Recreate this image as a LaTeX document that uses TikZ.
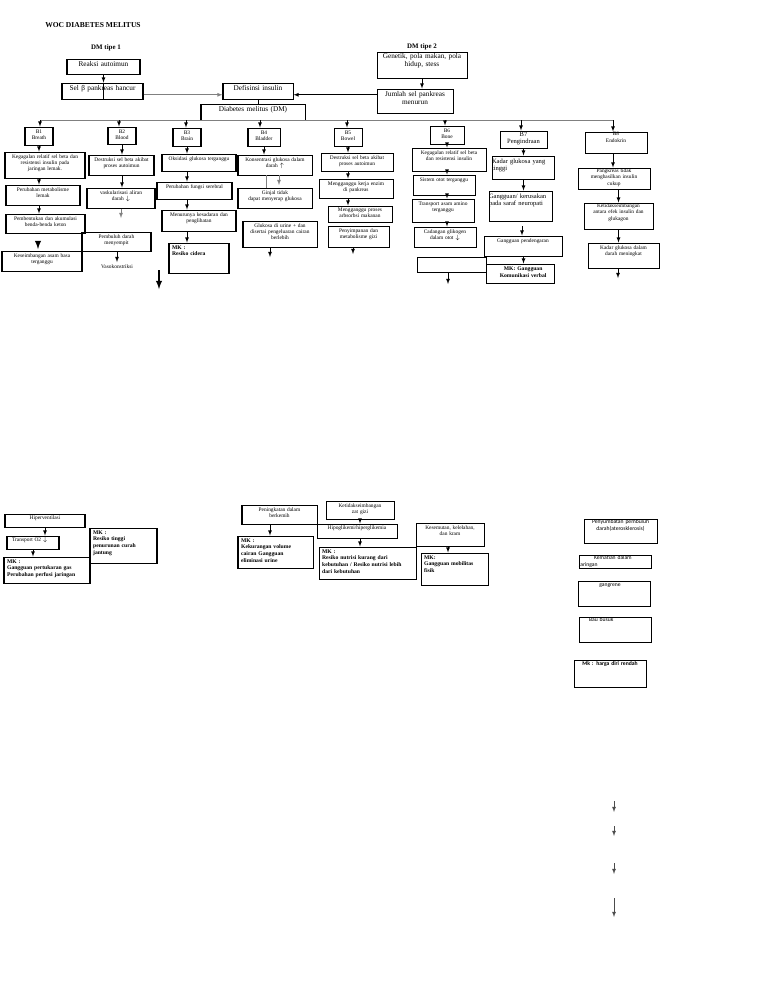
\documentclass[tikz,border=0pt]{standalone}
\usepackage{fontspec}
\setmainfont{Liberation Serif}
\newfontfamily\calib{Carlito}
\usepackage{tikz}
\usetikzlibrary{arrows,shapes}

% box from corner (x1,y1) to (x2,y2), text at the top
\newcommand{\wocbox}[7][]{%
  \pgfmathsetmacro{\wocw}{(#5-#3)*0.797}%
  \pgfmathsetmacro{\woch}{(#6-#4)*0.797}%
  \node[boxy, minimum width=\wocw pt, minimum height=\woch pt] (#2) at ({(#3+#5)/2},{(#4+#6)/2}) {};%
  \node[txt, text width=\wocw pt, #1] at (#2.north) {#7};%
}

\begin{document}
\begin{tikzpicture}[x=0.797pt, y=-0.797pt,
    boxy/.style={draw, line width=0.8pt, inner sep=0pt},
    txt/.style={anchor=north, align=center, inner xsep=1pt, inner ysep=2.2pt, font=\fontsize{4.3}{5}\selectfont},
    bigtxt/.style={font=\fontsize{5.8}{6.6}\selectfont},
    midtxt/.style={font=\fontsize{5.2}{6}\selectfont},
    mktxt/.style={align=left, xshift=2.5pt, font=\bfseries\fontsize{4.5}{5.4}\selectfont},
    sanstxt/.style={inner ysep=0.8pt, font=\calib\fontsize{4.5}{5.2}\selectfont},
    arr/.style={-latex, line width=0.45pt},
    fat/.style={-latex, line width=1.2pt}]
\useasboundingbox (0,0) rectangle (768,994);

% heads
\node[font=\bfseries\fontsize{6}{7}\selectfont, anchor=west, inner sep=0pt] (title) at (45,25) {WOC DIABETES MELITUS};
\node[font=\bfseries\fontsize{5.5}{6.5}\selectfont] (tipe1) at (106,48) {DM tipe 1};
\node[font=\bfseries\fontsize{5.5}{6.5}\selectfont] (tipe2) at (422,47) {DM tipe 2};

\wocbox[bigtxt]{reaksi}{67}{59}{140}{74}{Reaksi autoimun}
\wocbox[bigtxt]{sel}{62}{83}{143}{99}{Sel β pankreas hancur}
\wocbox[bigtxt]{defisiensi}{223}{83}{293}{99}{Defisinsi insulin}
\wocbox[bigtxt]{dm}{201}{104}{305}{120}{Diabetes melitus (DM)}
\wocbox[bigtxt, inner ysep=1.5pt]{genetik}{377}{52}{467}{78}{Genetik, pola makan, pola\\hidup, stess}
\wocbox[bigtxt]{jumlah}{377}{89}{453}{113}{Jumlah sel pankreas\\menurun}

\draw[arr] (reaksi.south) -- (reaksi.south |- sel.north);
\draw (reaksi.south |- sel.north) -- (reaksi.south |- sel.south);
\coordinate (selout) at ([yshift=-3pt]sel.east);
\coordinate (defin) at ([yshift=-3pt]defisiensi.east);
\draw[arr, gray] (selout) -- (selout -| defisiensi.west);
\draw[arr] (defin -| jumlah.west) -- (defin);
\draw (defisiensi.south) -- (defisiensi.south |- dm.north);
\draw[arr] (genetik.south) -- (genetik.south |- jumlah.north);

% B boxes
\wocbox{b1}{25}{127}{53}{145}{B1\\Breath}
\wocbox{b2}{108}{127}{136}{144}{B2\\Blood}
\wocbox{b3}{173}{128}{201}{146}{B3\\Brain}
\wocbox{b4}{248}{128}{280}{146}{B4\\Bladder}
\wocbox{b5}{334}{128}{362}{146}{B5\\Bowel}
\wocbox{b6}{430}{126}{464}{144}{B6\\Bone}
\wocbox[midtxt, inner ysep=1pt]{b7}{500}{131}{547}{148}{B7\\Pengindraan}
\wocbox[inner ysep=0.5pt]{b8}{585}{132}{647}{153}{B8\\Endokrin}

\coordinate (hl) at (40,120);
\coordinate (hr) at (613,120);
\draw[gray, line width=0.8pt] (hl) -- (hr);
\foreach \i/\x in {1/40,2/119,3/186,4/260,5/347,6/445,7/521,8/613}
{
  \coordinate (d\i) at (\x,120);
  \draw[arr] (d\i) -- (d\i |- b\i.north);
}

% B1 breath
\wocbox{keg1}{5}{152}{85}{178}{Kegagalan relatif sel beta dan\\resistensi insulin pada\\jaringan lemak.}
\wocbox{lemak}{6}{185}{80}{205}{Perubahan metabolisme\\lemak}
\wocbox{keton}{6}{214}{85}{233}{Pembentukan dan akumulasi\\benda-benda keton}
\wocbox{asam}{2}{251}{82}{271}{Keseimbangan asam basa\\terganggu}
\foreach \a/\b in {b1/keg1,keg1/lemak,lemak/keton}
  \draw[arr] (\a.south -| b1) -- (\b.north -| b1);
\coordinate (t1a) at (38,242);
\coordinate (t1b) at (38,249);
\draw[fat] (t1a) -- (t1b);

% B2 blood
\wocbox{destr1}{89}{155}{154}{175}{Destruksi sel beta akibat\\proses autoimun}
\wocbox{vask}{87}{188}{155}{208}{vaskularisasi aliran\\darah $\downarrow$}
\wocbox{pembuluh}{82}{232}{151}{251}{Pembuluh darah\\menyempit}
\node[txt] (vaso) at (117,262) {Vasokonstriksi};
\foreach \a/\b in {b2/destr1,destr1/vask}
  \draw[arr] (\a.south -| b2) -- (\b.north -| b2);
\coordinate (v2) at (121,218);
\draw[arr, gray] (vask.south -| v2) -- (v2);
\draw[arr] (pembuluh.south -| vaso) -- (vaso.north);

% B3 brain
\wocbox{oks}{162}{154}{236}{171}{Oksidasi glukosa terganggu}
\wocbox{serebral}{157}{182}{232}{199}{Perubahan fungsi serebral}
\wocbox{sadar}{162}{210}{236}{231}{Menurunya kesadaran dan\\penglihatan}
\wocbox[mktxt]{cidera}{169}{243}{229}{273}{MK :\\Resiko cidera}
\foreach \a/\b in {b3/oks,oks/serebral,serebral/sadar,sadar/cidera}
  \draw[arr] (\a.south -| b3) -- (\b.north -| b3);
\coordinate (t3a) at (159,270);
\coordinate (t3b) at (159,289);
\draw[fat] (t3a) -- (t3b);

% B4 bladder
\wocbox{konsen}{238}{155}{312}{175}{Konsentrasi glukosa dalam\\darah $\uparrow$}
\wocbox{ginjal}{238}{188}{312}{208}{Ginjal tidak\\dapat menyerap glukosa}
\wocbox{urine}{243}{221}{317}{247}{Glukosa di urine + dan\\disertai pengeluaran cairan\\berlebih}
\draw[arr] (b4.south) -- (b4.south |- konsen.north);
\coordinate (k1) at (266,175);
\coordinate (k2) at (279,175);
\draw[gray] (k1) -- (k1 |- ginjal.north);
\draw[arr, gray] (k2) -- ([yshift=2pt]k2 |- ginjal.north);
\coordinate (u4) at (270,257);
\draw[arr] (urine.south -| u4) -- (u4);

% B5 bowel
\wocbox{destr2}{321}{153}{393}{171}{Destruksi sel beta akibat\\proses autoimun}
\wocbox{enzim}{319}{179}{393}{198}{Mengganggu kerja enzim\\di pankreas}
\wocbox[inner ysep=1.5pt]{absorb}{328}{206}{392}{222}{Mengganggu proses\\arbsorbsi makanan}
\wocbox{simpan}{328}{226}{389}{247}{Penyimpanan dan\\metabolisme gizi}
\foreach \a/\b in {b5/destr2,destr2/enzim,enzim/absorb}
  \draw[arr] (\a.south -| b5) -- (\b.north -| b5);
\coordinate (s5) at (353,254);
\draw[arr] (simpan.south -| s5) -- (s5);

% B6 bone
\wocbox{keg2}{412}{148}{486}{171}{Kegagalan relatif sel beta\\dan resistensi insulin}
\wocbox{otot}{413}{175}{475}{195}{Sistem otot terganggu}
\wocbox{amino}{412}{199}{474}{222}{Transport asam amino\\terganggu}
\wocbox{glikogen}{414}{227}{476}{247}{Cadangan glikogen\\dalam otot $\downarrow$}
\wocbox{kosong}{417}{257}{486}{272}{}
\foreach \a/\b in {b6/keg2,keg2/otot,otot/amino,amino/glikogen}
  \draw[arr] (\a.south -| b6) -- (\b.north -| b6);
\coordinate (o6) at (448,284);
\draw[arr] (kosong.south -| o6) -- (o6);

% B7 pengindraan
\wocbox[midtxt, align=left, inner xsep=0pt]{kadar}{492}{156}{554}{179}{Kadar glukosa yang\\tinggi}
\wocbox[midtxt, align=left, inner xsep=0pt]{saraf}{489}{191}{552}{221}{Gangguan/ kerusakan\\pada saraf neuropati}
\wocbox{dengar}{484}{236}{562}{256}{Gangguan pendengaran}
\wocbox[mktxt, align=center, xshift=0pt]{verbal}{486}{264}{554}{283}{MK: Gangguan\\Komunikasi verbal}
\foreach \a/\b in {b7/kadar,kadar/saraf,dengar/verbal}
  \draw[arr] (\a.south -| b7) -- (\b.north -| b7);
\coordinate (n7) at (522,226);
\draw[arr] (n7) -- (n7 |- dengar.north);

% B8 endokrin
\wocbox[inner ysep=0.8pt]{pankreas}{578}{168}{650}{189}{Pangkreas tidak\\menghasilkan insulin\\cukup}
\wocbox[inner ysep=0.8pt]{efek}{584}{203}{653}{229}{Ketidakseimbangan\\antara efek insulin dan\\glukagon}
\wocbox{meningkat}{588}{243}{659}{268}{Kadar glukosa dalam\\darah meningkat}
\draw[arr] (b8.south -| d8) -- (pankreas.north -| d8);
\foreach \a/\b in {pankreas/efek,efek/meningkat}
  \draw[arr] (\a.south -| efek) -- (\b.north -| efek);
\coordinate (m8) at (618,278);
\draw[arr] (meningkat.south -| m8) -- (m8);

% lower row
\wocbox[inner ysep=1.5pt]{hiper}{5}{514}{85}{527}{Hiperventilasi}
\wocbox[align=left, xshift=4pt, inner ysep=1.5pt]{transpor}{7}{536}{59}{549}{Transport O2 $\downarrow$}
\wocbox[mktxt]{gas}{4}{557}{90}{583}{MK :\\Gangguan pertukaran gas\\Perubahan perfusi jaringan}
\wocbox[mktxt]{jantung}{90}{528}{157}{563}{MK :\\Resiko tinggi\\penurunan curah\\jantung}
\draw[arr] (hiper.south) -- (hiper.south |- transpor.north);
\draw[arr] (transpor.south) -- (transpor.south |- gas.north);

\wocbox{berkemih}{242}{505}{317}{524}{Peningkatan dalam\\berkemih}
\wocbox[mktxt]{cairan}{238}{536}{313}{568}{MK :\\Kekurangan volume\\cairan Gangguan\\eliminasi urine}
\wocbox{gizi}{326}{501}{394}{519}{Ketidakseimbangan\\zat gizi}
\wocbox[inner ysep=1.5pt]{glikemi}{317}{524}{397}{538}{Hipoglikemi/hiperglikemia}
\wocbox[mktxt]{nutrisi}{319}{547}{416}{579}{MK :\\Resiko nutrisi kurang dari\\kebutuhan / Resiko nutrisi lebih\\dari kebutuhan}
\wocbox{kram}{416}{523}{484}{546}{Kesemutan, kelelahan,\\dan kram}
\wocbox[mktxt]{mobilitas}{421}{553}{488}{585}{MK:\\Gangguan mobilitas\\fisik}
\coordinate (c1) at (270,524);
\draw[arr] (c1) -- (c1 |- cairan.north);
\draw[arr] (gizi.south) -- (gizi.south |- glikemi.north);
\draw[arr] (glikemi.south -| gizi) -- (nutrisi.north -| gizi);
\coordinate (c3) at (448,546);
\draw[arr] (c3) -- (c3 |- mobilitas.north);

% kaki
\wocbox[sanstxt]{sumbat}{584}{519}{657}{543}{Penyumbatan pembuluh\\darah(aterosklerosis)}
\wocbox[sanstxt, align=left]{mati}{579}{555}{651}{568}{\hspace*{12pt}Kematian dalam\\jaringan}
\wocbox[sanstxt, align=left, inner ysep=2.5pt]{gangrene}{578}{581}{650}{606}{\hspace*{17pt}gangrene}
\wocbox[sanstxt, align=left]{bau}{579}{617}{651}{642}{\hspace*{8pt}Bau busuk}
\wocbox[sanstxt, inner ysep=1.5pt, font=\calib\bfseries\fontsize{4.5}{5.2}\selectfont]{harga}{574}{660}{646}{687}{Mk : harga diri rendah}

\foreach \i/\a/\b in {1/801/812,2/826/836,3/863/874,4/898/917}
{
  \coordinate (s\i) at (614,\a);
  \coordinate (e\i) at (614,\b);
  \draw[arr, gray!60!black] (s\i) -- (e\i);
}
\end{tikzpicture}
\end{document}
